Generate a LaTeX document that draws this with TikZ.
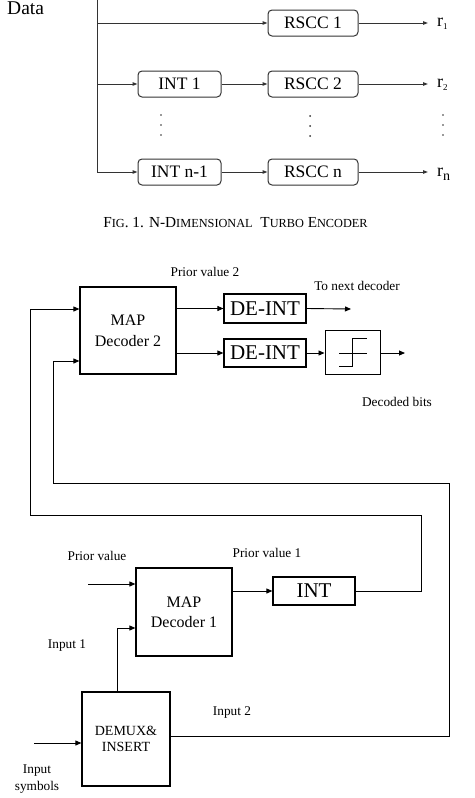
\documentclass[tikz,border=0pt]{standalone}
\usepackage{fontspec}
\setmainfont{Liberation Serif}
\usetikzlibrary{arrows.meta}
\newcommand{\smc}[1]{{\fontsize{12.3}{13}\selectfont #1}}
\begin{document}
\begin{tikzpicture}[x=1pt,y=-1pt,
  enc/.style={draw=black!80, rounded corners=4pt, line width=1pt, minimum width=90pt, minimum height=26pt, inner sep=0pt, font=\fontsize{17.5}{18}\selectfont},
  eline/.style={draw=black!80, line width=1pt},
  earr/.style={eline, -{Triangle[length=5pt,width=3.5pt]}},
  blk/.style={draw, line width=1.2pt, inner sep=0pt, align=center},
  dline/.style={line width=0.9pt},
  darr/.style={dline, -{Triangle[length=6pt,width=5pt]}},
  lbl/.style={font=\fontsize{13.3}{14}\selectfont, inner sep=0pt, align=center},
  rlbl/.style={font=\fontsize{18}{18}\selectfont, inner sep=0pt, anchor=west}
]
\useasboundingbox (0,0) rectangle (474,798);
% ---------------- encoder ----------------
\node[anchor=base west, inner sep=0pt, font=\fontsize{19.5}{20}\selectfont] (data) at (7,14.5) {Data};
\coordinate (t0) at (97,0);
\coordinate (tn) at (97,172);
\node[enc] (rscc1) at (313,23) {RSCC 1};
\node[enc, minimum width=83pt] (int1) at (179.5,84) {INT 1};
\node[enc] (rscc2) at (313,84) {RSCC 2};
\node[enc, minimum width=83pt] (intn) at (179.5,172) {INT n-1};
\node[enc] (rsccn) at (313,172) {RSCC n};
\coordinate (o1) at (428,23);
\coordinate (o2) at (428,84);
\coordinate (on) at (428,172);
\node[rlbl] (r1) at (437,24) {r\raisebox{-3pt}{\fontsize{9}{9}\selectfont 1}};
\node[rlbl] (r2) at (437,85) {r\raisebox{-3pt}{\fontsize{9}{9}\selectfont 2}};
\node[rlbl] (rn) at (437,174) {r\raisebox{-4pt}{\fontsize{14}{14}\selectfont n}};
\draw[eline] (t0) -- (tn);
\draw[earr] (t0 |- rscc1) -- (rscc1.west);
\draw[earr] (t0 |- int1) -- (int1.west);
\draw[earr] (tn) -- (intn.west);
\draw[earr] (int1.east) -- (rscc2.west);
\draw[earr] (intn.east) -- (rsccn.west);
\draw[earr] (rscc1.east) -- (o1);
\draw[earr] (rscc2.east) -- (o2);
\draw[earr] (rsccn.east) -- (on);
\foreach \x in {161,443} {\foreach \y in {115,125,135} {\fill[black!80] (\x,\y) circle (0.8pt);}}
\foreach \y in {116,126,136} {\fill[black!80] (310,\y) circle (1pt);}
\node[inner sep=0pt, font=\fontsize{15.3}{15}\selectfont] (cap) at (235.5,223)
  {F\smc{IG}. 1. N-D\smc{IMENSIONAL}\ \ T\smc{URBO} E\smc{NCODER}};
% ---------------- decoder ----------------
\node[blk, minimum width=96pt, minimum height=87pt, font=\fontsize{16}{21}\selectfont] (map2) at (128,330.5) {MAP\\Decoder 2};
\node[blk, minimum width=82pt, minimum height=29pt, font=\fontsize{21}{21}\selectfont] (deint1) at (265,308.5) {DE-INT};
\node[blk, minimum width=82pt, minimum height=28pt, font=\fontsize{21}{21}\selectfont] (deint2) at (265,353) {DE-INT};
\node[blk, line width=1pt, minimum width=55pt, minimum height=44pt] (hl) at (352.5,352) {};
\draw[line width=1pt] (339,366) -- (352,366) -- (352,338) -- (367,338);
\draw[line width=0.8pt] (339,353) -- (367,353);
\coordinate (nx) at (351,309);
\coordinate (db) at (405,353);
\draw[darr] (map2.east |- deint1) -- (deint1.west);
\draw[darr] (deint1.east) -- (nx);
\draw[darr] (map2.east |- deint2) -- (deint2.west);
\draw[darr] (deint2.east) -- (hl.west |- deint2);
\draw[darr] (hl.east |- deint2) -- (db);
\node[lbl] (pv2) at (205,272) {Prior value 2};
\node[lbl] (tnd) at (357,286) {To next decoder};
\node[lbl] (dbits) at (397,402) {Decoded bits};

\node[blk, minimum width=96pt, minimum height=88pt, font=\fontsize{16}{20}\selectfont] (map1) at (184,612) {MAP\\Decoder 1};
\node[blk, minimum width=82pt, minimum height=28pt, font=\fontsize{21}{21}\selectfont] (int) at (314,591) {INT};
\node[blk, minimum width=88pt, minimum height=94pt, font=\fontsize{14}{16}\selectfont] (demux) at (126,739) {DEMUX\&\\INSERT};
\coordinate (pvin) at (88,584);
\coordinate (symin) at (34,743);
\draw[darr] (pvin) -- (map1.west |- pvin);
\draw[darr] (map1.east |- int) -- (int.west);
\draw[darr] (demux.north -| 117,0) -- (117,628) -- (map1.west |- 0,628);
\draw[darr] (symin) -- (demux.west |- symin);
% feedback loops
\draw[darr] (int.east) -- (421,591) -- (421,515) -- (30,515) -- (30,309) -- (map2.west |- 0,309);
\draw[darr] (demux.east |- 0,736) -- (449,736) -- (449,483) -- (53,483) -- (53,361) -- (map2.west |- 0,361);
\node[lbl] (pv) at (97,556) {Prior value};
\node[lbl] (pv1) at (267,553) {Prior value 1};
\node[lbl] (in1) at (67,646) {Input 1};
\node[lbl] (in2) at (232,713) {Input 2};
\node[lbl, font=\fontsize{13.3}{17}\selectfont] (insym) at (37,779) {Input\\symbols};
\end{tikzpicture}
\end{document}
